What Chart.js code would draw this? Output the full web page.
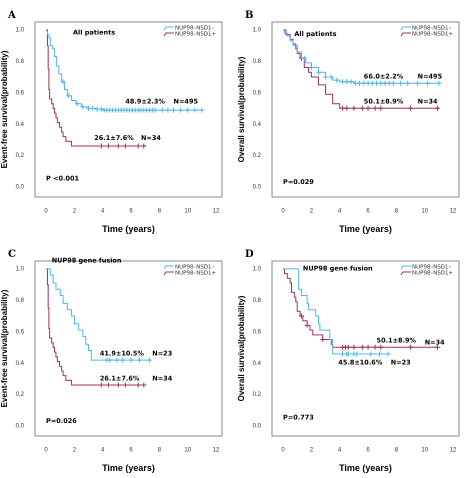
<!DOCTYPE html>
<html>
<head>
<meta charset="utf-8">
<script src="https://cdn.jsdelivr.net/npm/chart.js@4"></script>
<style>
body { margin: 0; background: #fff; }
#wrap { position: relative; width: 474px; height: 478px; }
.cell { position: absolute; width: 237px; height: 239px; }
</style>
</head>
<body>
<div id="wrap">
  <div class="cell" style="left:0;top:0"><canvas id="cA"></canvas></div>
  <div class="cell" style="left:237px;top:0"><canvas id="cB"></canvas></div>
  <div class="cell" style="left:0;top:239px"><canvas id="cC"></canvas></div>
  <div class="cell" style="left:237px;top:239px"><canvas id="cD"></canvas></div>
</div>
<script>
// step curves: [time, survival]
const efsAllNeg = [[0,1],[0.05,.99],[0.1,.97],[0.2,.95],[0.3,.9],[0.45,.88],[0.6,.83],[0.75,.77],[0.9,.72],[1.1,.67],[1.3,.62],[1.5,.58],[1.8,.55],[2.1,.53],[2.5,.51],[3,.5],[3.5,.495],[4,.489],[11,.489]];
const efsAllNegCens = [1.2,1.6,2.2,2.6,3,3.3,3.6,3.9,4.1,4.3,4.5,4.7,4.9,5.1,5.3,5.5,5.7,5.9,6.1,6.3,6.5,6.7,6.9,7.1,7.3,7.5,7.7,8.2,8.6,9,9.5,10,10.5,11];
const efsPos = [[0,1],[0.1,.9],[0.15,.75],[0.2,.62],[0.25,.56],[0.4,.53],[0.5,.5],[0.6,.47],[0.7,.44],[0.8,.41],[0.95,.38],[1.1,.35],[1.2,.32],[1.4,.29],[1.8,.261],[7,.261]];
const efsPosCens = [3.9,4.4,5.1,5.6,6.5,6.9];
const osAllNeg = [[0,1],[0.1,.98],[0.3,.96],[0.5,.93],[0.7,.9],[1,.86],[1.3,.82],[1.6,.79],[2,.76],[2.5,.73],[3,.7],[3.5,.68],[4,.67],[5,.66],[11,.66]];
const osAllNegCens = [1.5,2,2.5,3,3.4,3.8,4.2,4.5,4.8,5.1,5.4,5.7,6,6.3,6.6,6.9,7.2,7.5,7.8,8.3,8.8,9.5,10.2,11];
const osPos = [[0,1],[0.2,.97],[0.5,.94],[0.7,.91],[0.9,.88],[1,.85],[1.2,.82],[1.5,.76],[1.8,.73],[2,.7],[2.5,.65],[3,.59],[3.5,.53],[4,.501],[11,.501]];
const osPosCens = [1.3,4.2,4.5,5,5.6,6,6.5,6.9,9,10.9];
const efsFusNeg = [[0,1],[0.3,.96],[0.5,.91],[0.7,.87],[1,.83],[1.2,.78],[1.5,.74],[1.8,.7],[2,.65],[2.3,.61],[2.6,.57],[2.8,.52],[3,.48],[3.2,.419],[7.3,.419]];
const efsFusNegCens = [4.3,4.5,5,5.4,6,6.6,7.3];
const osFusNeg = [[0,1],[1.1,.87],[1.3,.83],[1.7,.78],[1.8,.74],[2.3,.7],[2.5,.65],[2.6,.61],[3.3,.55],[3.5,.458],[7.4,.458]];
const osFusNegCens = [4.2,4.5,4.6,5,5.2,6.2,6.8,7.4];
const osFusPos = [[0,1],[0.1,.97],[0.3,.94],[0.5,.91],[0.6,.85],[0.8,.82],[0.9,.79],[1,.73],[1.2,.7],[1.4,.67],[1.7,.64],[1.9,.61],[2.1,.58],[2.8,.55],[3.4,.52],[3.5,.501],[10.9,.501]];
const osFusPosCens = [1.3,1.7,2.8,4.2,4.4,4.6,5,5.6,6,6.5,6.9,9,10.9];
const xTicks = [0,2,4,6,8,10,12];
const yTicks = [0,0.2,0.4,0.6,0.8,1.0];

const BLUE = '#4fb6ec', RED = '#a0305e';

function atTime(curve, t) {
  let v = curve[0][1];
  curve.forEach(p => { if (p[0] <= t) v = p[1]; });
  return v;
}

function makePanel(id, letter, ylabel, neg, negCens, pos, posCens, texts) {
  const line = (c, col) => ({ type: 'line', data: c.map(p => ({x: p[0], y: p[1]})), borderColor: col, borderWidth: 1, stepped: true, pointRadius: 0, fill: false });
  const marks = (c, cens, col) => ({ type: 'scatter', data: cens.map(t => ({x: t, y: atTime(c, t)})), pointStyle: 'cross', pointRadius: 2.5, borderColor: col, borderWidth: 1 });
  const deco = {
    id: 'deco',
    afterDraw(chart) {
      const ctx = chart.ctx, xs = chart.scales.x, ys = chart.scales.y, a = chart.chartArea;
      ctx.save();
      ctx.strokeStyle = '#888'; ctx.lineWidth = 1;
      ctx.strokeRect(a.left, a.top, a.right - a.left, a.bottom - a.top);
      ctx.fillStyle = '#000';
      ctx.font = 'bold 10px "DejaVu Serif"';
      ctx.fillText(letter, 8, 18);
      ctx.font = 'bold 6.5px "DejaVu Sans"';
      texts.forEach(t => ctx.fillText(t[2], xs.getPixelForValue(t[0]), ys.getPixelForValue(t[1])));
      // legend
      ctx.font = '5.5px "DejaVu Sans"';
      [[BLUE, 'NUP98\u2013NSD1\u2013'], [RED, 'NUP98\u2013NSD1+']].forEach((l, i) => {
        const y = a.top + 6 + i * 6, x0 = a.right - 58;
        ctx.strokeStyle = l[0];
        ctx.beginPath(); ctx.moveTo(x0, y + 2); ctx.lineTo(x0 + 2, y - 1); ctx.lineTo(x0 + 10, y - 1); ctx.stroke();
        ctx.fillStyle = '#333'; ctx.fillText(l[1], x0 + 11, y + 1.5);
      });
      ctx.restore();
    }
  };
  new Chart(document.getElementById(id), {
    data: { datasets: [line(neg, BLUE), marks(neg, negCens, BLUE), line(pos, RED), marks(pos, posCens, RED)] },
    plugins: [deco],
    options: {
      responsive: false, animation: false, devicePixelRatio: 2,
      layout: { padding: { top: 22, right: 15 } },
      plugins: { legend: { display: false }, tooltip: { enabled: false } },
      scales: {
        x: { type: 'linear', min: -0.78, max: 12.42, grid: { display: false }, border: { display: false },
             afterBuildTicks: s => { s.ticks = xTicks.map(v => ({value: v})); },
             afterFit: s => { s.height = 42; },
             ticks: { font: { size: 6 }, color: '#333', padding: 2 },
             title: { display: true, text: 'Time (years)', font: { size: 9, weight: 'bold' }, color: '#000', padding: { top: 6 } } },
        y: { type: 'linear', min: -0.064, max: 1.05, grid: { display: false }, border: { display: false },
             afterBuildTicks: s => { s.ticks = yTicks.map(v => ({value: v})); },
             afterFit: s => { s.width = 35; },
             ticks: { font: { size: 6 }, color: '#333', callback: v => v.toFixed(1) },
             title: { display: true, text: ylabel, font: { size: 8, weight: 'bold' }, color: '#000', padding: 0 } }
      }
    }
  });
}

['cA','cB','cC','cD'].forEach(id => { const c = document.getElementById(id); c.width = 237; c.height = 239; c.style.width = '237px'; c.style.height = '239px'; });

makePanel('cA', 'A', 'Event-free survival(probability)', efsAllNeg, efsAllNegCens, efsPos, efsPosCens,
  [[1.9, 0.97, 'All patients'], [5.6, 0.53, '48.9\u00b12.3%'], [9, 0.53, 'N=495'], [3.4, 0.3, '26.1\u00b17.6%'], [6.7, 0.3, 'N=34'], [0, 0.04, 'P <0.001']]);
makePanel('cB', 'B', 'Overall survival(probability)', osAllNeg, osAllNegCens, osPos, osPosCens,
  [[0.8, 0.96, 'All patients'], [5.7, 0.69, '66.0\u00b12.2%'], [9.5, 0.69, 'N=495'], [5.7, 0.53, '50.1\u00b18.9%'], [9.5, 0.53, 'N=34'], [0, 0.02, 'P=0.029']]);
makePanel('cC', 'C', 'Event-free survival(probability)', efsFusNeg, efsFusNegCens, efsPos, efsPosCens,
  [[0.4, 1.04, 'NUP98 gene fusion'], [3.8, 0.45, '41.9\u00b110.5%'], [7.5, 0.45, 'N=23'], [3.8, 0.29, '26.1\u00b17.6%'], [7.5, 0.29, 'N=34'], [0, 0.02, 'P=0.026']]);
makePanel('cD', 'D', 'Overall survival(probability)', osFusNeg, osFusNegCens, osFusPos, osFusPosCens,
  [[1.4, 0.99, 'NUP98 gene fusion'], [6.6, 0.53, '50.1\u00b18.9%'], [10, 0.52, 'N=34'], [3.9, 0.39, '45.8\u00b110.6%'], [7.6, 0.39, 'N=23'], [0, 0.04, 'P=0.773']]);
</script>
</body>
</html>
